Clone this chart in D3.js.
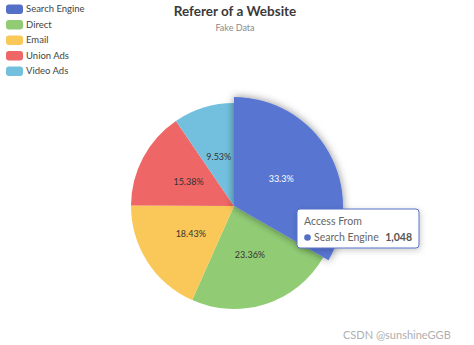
<!DOCTYPE html>
<html>
<head>
<meta charset="utf-8">
<script src="https://cdn.jsdelivr.net/npm/d3@7"></script>
<style>
  html, body { margin: 0; padding: 0; background: #fff; }
  svg { display: block; }
  text { font-family: "Lato", "Noto Sans", sans-serif; }
</style>
</head>
<body>
<svg id="chart" width="474" height="345"></svg>
<script>
// ---- data ----
const categories = ["Search Engine", "Direct", "Email", "Union Ads", "Video Ads"];
const values = [1048, 735, 580, 484, 300];
const palette = ["#5470c6", "#91cc75", "#fac858", "#ee6666", "#73c0de"];
const titleText = "Referer of a Website";
const subtitleText = "Fake Data";
const tooltipTitle = "Access From";
const highlighted = 0;

const W = 474, H = 345;
const svg = d3.select("#chart");

// defs: shadow for emphasized slice & tooltip
const defs = svg.append("defs");
const f = defs.append("filter").attr("id", "shadow").attr("x", "-30%").attr("y", "-30%").attr("width", "160%").attr("height", "160%");
f.append("feDropShadow").attr("dx", 0).attr("dy", 0).attr("stdDeviation", 4).attr("flood-color", "#000").attr("flood-opacity", 0.45);
const f2 = defs.append("filter").attr("id", "tipShadow").attr("x", "-20%").attr("y", "-30%").attr("width", "140%").attr("height", "160%");
f2.append("feDropShadow").attr("dx", 1).attr("dy", 2).attr("stdDeviation", 3).attr("flood-color", "#000").attr("flood-opacity", 0.2);

// title
svg.append("text").attr("x", 235).attr("y", 16).attr("text-anchor", "middle")
  .attr("font-size", 13.5).attr("font-weight", "bold").attr("fill", "#3a3a3a").text(titleText);
svg.append("text").attr("x", 235).attr("y", 31).attr("text-anchor", "middle")
  .attr("font-size", 9).attr("fill", "#8a8a8a").text(subtitleText);

// legend
const color = d3.scaleOrdinal().domain(categories).range(palette);
const legendY = d3.scalePoint().domain(categories).range([9, 71]);
const lg = svg.append("g");
categories.forEach(c => {
  const y = legendY(c);
  lg.append("rect").attr("x", 6).attr("y", y - 4.5).attr("width", 17).attr("height", 9.5)
    .attr("rx", 3).attr("fill", color(c));
  lg.append("text").attr("x", 26).attr("y", y + 3.3).attr("font-size", 9.5)
    .attr("fill", "#444").text(c);
});

// pie
const cx = 234, cy = 206, R = 103, Remph = 109;
const total = d3.sum(values);
const pie = d3.pie().sort(null).value(d => d.value);
const arcs = pie(categories.map((c, i) => ({ name: c, value: values[i], i })));
const arcN = d3.arc().innerRadius(0).outerRadius(R);
const arcE = d3.arc().innerRadius(0).outerRadius(Remph);
const g = svg.append("g").attr("transform", `translate(${cx},${cy})`);

// draw non-highlighted first, highlighted on top
const order = arcs.filter(a => a.data.i !== highlighted).concat(arcs.filter(a => a.data.i === highlighted));
g.selectAll("path.slice").data(order).join("path")
  .attr("class", "slice")
  .attr("d", a => a.data.i === highlighted ? arcE(a) : arcN(a))
  .attr("fill", a => a.data.i === highlighted ? d3.color(color(a.data.name)).brighter(0.15) : color(a.data.name))
  .attr("filter", a => a.data.i === highlighted ? "url(#shadow)" : null);

const pct = v => String(+(v / total * 100).toFixed(2)) + "%";
g.selectAll("text.lbl").data(arcs).join("text")
  .attr("class", "lbl")
  .attr("transform", a => `translate(${(a.data.i === highlighted ? arcE : arcN).centroid(a)})`)
  .attr("text-anchor", "middle").attr("dy", "0.35em")
  .attr("font-size", 9)
  .attr("fill", a => a.data.i === highlighted ? "#fff" : "#333")
  .text(a => pct(a.data.value));

// tooltip
const tip = svg.append("g").attr("transform", "translate(297,209)");
tip.append("rect").attr("width", 122).attr("height", 39).attr("rx", 3)
  .attr("fill", "#fff").attr("stroke", color(categories[highlighted])).attr("stroke-width", 1)
  .attr("filter", "url(#tipShadow)");
tip.append("text").attr("x", 7).attr("y", 16).attr("font-size", 10.5).attr("fill", "#666").text(tooltipTitle);
tip.append("circle").attr("cx", 10.5).attr("cy", 28.5).attr("r", 3.3).attr("fill", color(categories[highlighted]));
tip.append("text").attr("x", 17).attr("y", 32.3).attr("font-size", 10.5).attr("fill", "#666").text(categories[highlighted]);
tip.append("text").attr("x", 115).attr("y", 32.3).attr("text-anchor", "end").attr("font-size", 10.5)
  .attr("font-weight", "bold").attr("fill", "#555").text(d3.format(",")(values[highlighted]));

// watermark
svg.append("text").attr("x", 343).attr("y", 339).attr("font-size", 11).attr("fill", "#b0b0b0")
  .text("CSDN @sunshineGGB");
</script>
</body>
</html>
